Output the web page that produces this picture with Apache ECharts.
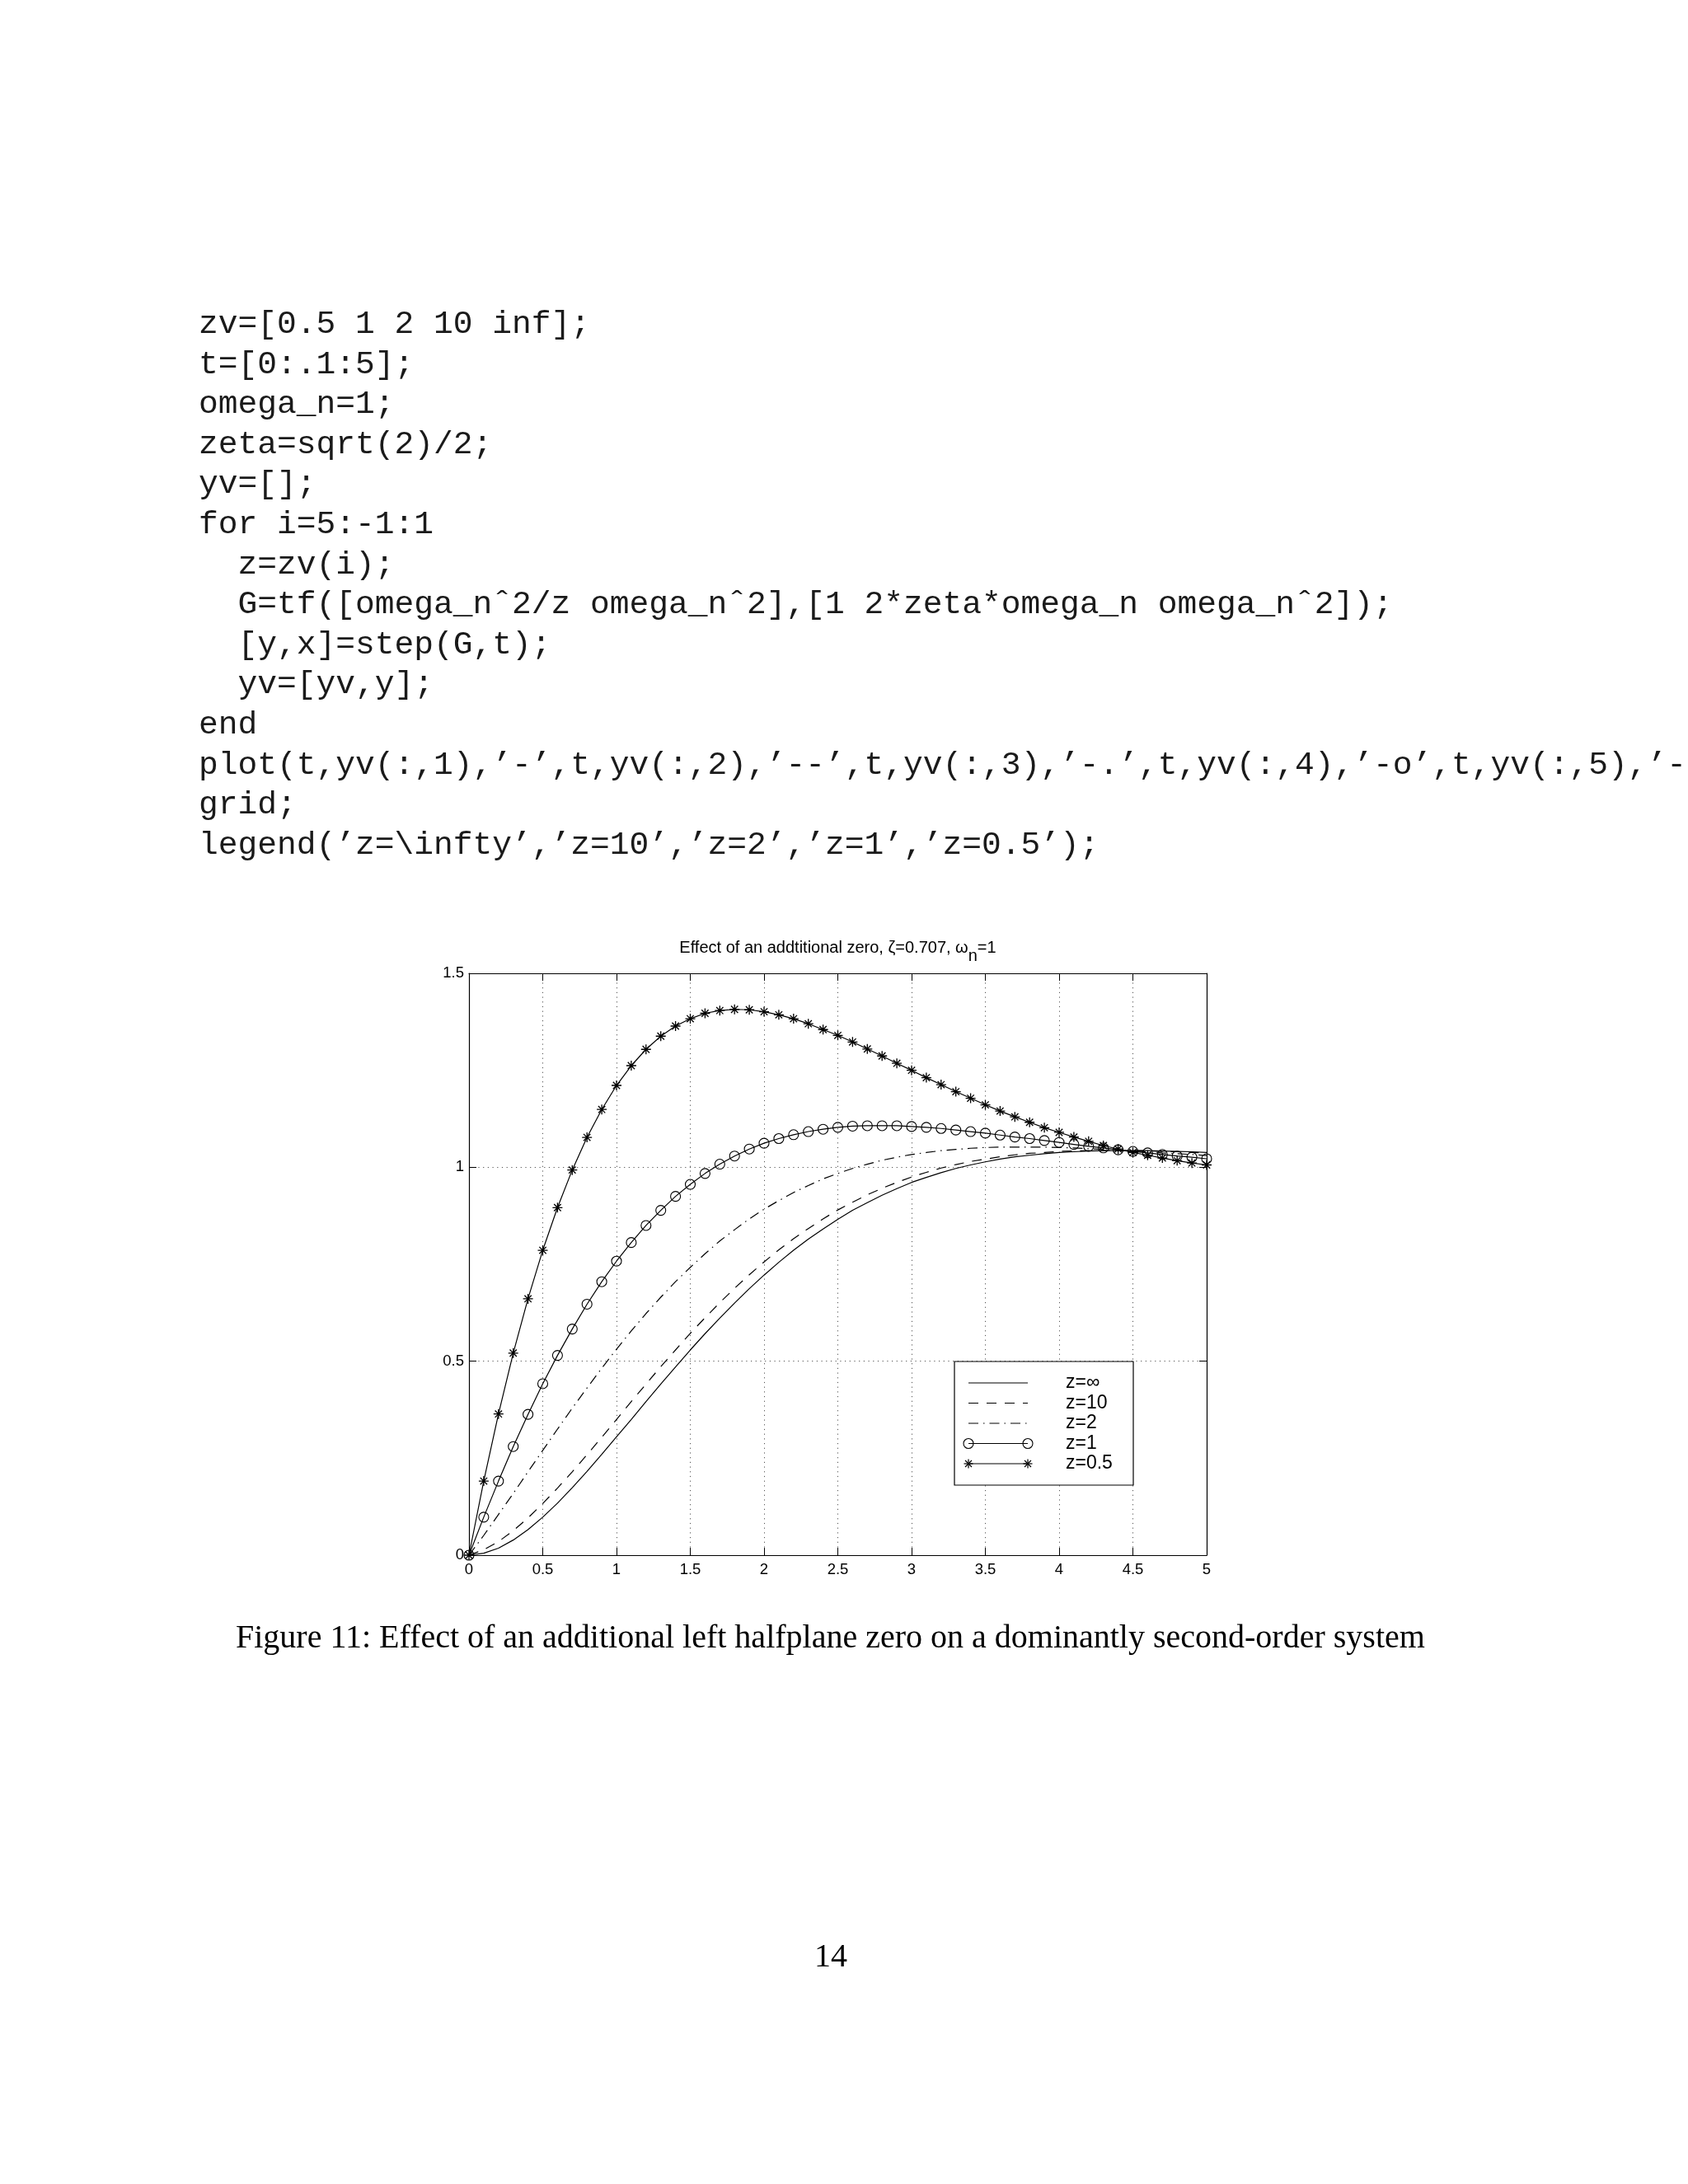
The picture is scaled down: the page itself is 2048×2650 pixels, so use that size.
<!DOCTYPE html>
<html>
<head>
<meta charset="utf-8">
<script src="https://cdn.jsdelivr.net/npm/echarts@6/dist/echarts.min.js"></script>
<style>
  html, body { margin: 0; padding: 0; background: #fff; }
  body { width: 2048px; height: 2650px; overflow: hidden; position: relative; }
  #chart { position: absolute; left: 0; top: 0; width: 2048px; height: 2650px; }
  .code { position: absolute; left: 241px; top: 370px; margin: 0; font-family: "Liberation Mono", monospace; font-size: 39.6px; line-height: 48.6px; color: #1a1a1a; white-space: pre; z-index: 2; }
  .caption { position: absolute; left: 286px; top: 1966px; font-family: "Liberation Serif", serif; font-size: 40px; line-height: 40px; color: #000; white-space: nowrap; z-index: 2; }
  .pageno { position: absolute; left: 0; width: 2016px; text-align: center; top: 2353px; font-family: "Liberation Serif", serif; font-size: 40px; line-height: 40px; color: #000; z-index: 2; }
</style>
</head>
<body>
<pre class="code" id="code"></pre>
<div class="caption" id="caption"></div>
<div class="pageno" id="pageno"></div>
<div id="chart"></div>
<script>
// ---------------- data ----------------
const codeLines = [
  "zv=[0.5 1 2 10 inf];",
  "t=[0:.1:5];",
  "omega_n=1;",
  "zeta=sqrt(2)/2;",
  "yv=[];",
  "for i=5:-1:1",
  "  z=zv(i);",
  "  G=tf([omega_nˆ2/z omega_nˆ2],[1 2*zeta*omega_n omega_nˆ2]);",
  "  [y,x]=step(G,t);",
  "  yv=[yv,y];",
  "end",
  "plot(t,yv(:,1),’-’,t,yv(:,2),’--’,t,yv(:,3),’-.’,t,yv(:,4),’-o’,t,yv(:,5),’-*’);",
  "grid;",
  "legend(’z=\\infty’,’z=10’,’z=2’,’z=1’,’z=0.5’);"
];
const captionText = "Figure 11: Effect of an additional left halfplane zero on a dominantly second-order system";
const pageNumber = "14";
const chartTitle = "Effect of an addtitional zero, ζ=0.707, ω";
const chartTitleSub = "n";
const chartTitleTail = "=1";

const tValues = [0,0.1,0.2,0.3,0.4,0.5,0.6,0.7,0.8,0.9,1,1.1,1.2,1.3,1.4,1.5,1.6,1.7,1.8,1.9,2,2.1,2.2,2.3,2.4,2.5,2.6,2.7,2.8,2.9,3,3.1,3.2,3.3,3.4,3.5,3.6,3.7,3.8,3.9,4,4.1,4.2,4.3,4.4,4.5,4.6,4.7,4.8,4.9,5];

const yZinf = [0,0.005,0.018,0.039,0.066,0.098,0.134,0.174,0.216,0.260,0.305,0.350,0.396,0.441,0.485,0.529,0.571,0.611,0.650,0.687,0.722,0.755,0.786,0.815,0.841,0.866,0.889,0.909,0.928,0.945,0.961,0.974,0.986,0.997,1.006,1.014,1.021,1.027,1.031,1.035,1.038,1.040,1.042,1.043,1.043,1.043,1.043,1.042,1.041,1.040,1.038];
const yZ10 = [0,0.014,0.035,0.063,0.096,0.133,0.173,0.215,0.259,0.304,0.350,0.396,0.441,0.486,0.529,0.572,0.612,0.651,0.688,0.723,0.756,0.787,0.816,0.842,0.867,0.890,0.910,0.929,0.946,0.961,0.975,0.987,0.998,1.007,1.015,1.021,1.027,1.032,1.036,1.038,1.041,1.042,1.043,1.043,1.043,1.043,1.042,1.041,1.040,1.038,1.037];
const yZ2 = [0,0.051,0.105,0.159,0.215,0.270,0.325,0.379,0.431,0.482,0.531,0.578,0.623,0.665,0.705,0.742,0.777,0.810,0.839,0.867,0.892,0.914,0.935,0.953,0.970,0.984,0.997,1.008,1.018,1.026,1.033,1.038,1.043,1.046,1.049,1.051,1.052,1.052,1.052,1.052,1.051,1.050,1.048,1.046,1.044,1.042,1.040,1.037,1.035,1.033,1.030];
const yZ1 = [0,0.098,0.191,0.280,0.363,0.442,0.515,0.583,0.647,0.705,0.758,0.806,0.850,0.889,0.925,0.956,0.984,1.008,1.029,1.047,1.062,1.074,1.084,1.092,1.098,1.103,1.106,1.107,1.107,1.107,1.105,1.103,1.100,1.096,1.092,1.088,1.083,1.078,1.074,1.069,1.064,1.059,1.054,1.050,1.045,1.041,1.037,1.033,1.029,1.026,1.022];
const yZ05 = [0,0.191,0.364,0.521,0.661,0.786,0.896,0.993,1.077,1.149,1.211,1.262,1.304,1.338,1.364,1.383,1.397,1.404,1.407,1.406,1.401,1.393,1.383,1.370,1.355,1.340,1.323,1.305,1.287,1.268,1.250,1.231,1.213,1.195,1.178,1.161,1.145,1.130,1.116,1.102,1.090,1.078,1.067,1.056,1.047,1.038,1.031,1.024,1.017,1.011,1.006];

const legendLabels = ["z=∞", "z=10", "z=2", "z=1", "z=0.5"];
const xTickLabels = ["0","0.5","1","1.5","2","2.5","3","3.5","4","4.5","5"];
const yTickLabels = ["0","0.5","1","1.5"];

// ---------------- text ----------------
document.getElementById('code').textContent = codeLines.join("\n");
document.getElementById('caption').textContent = captionText;
document.getElementById('pageno').textContent = pageNumber;

// ---------------- chart ----------------
const seriesValues = [yZinf, yZ10, yZ2, yZ1, yZ05];
const dashStyles = ['solid', [12, 10], [12, 6, 1.5, 6], 'solid', 'solid'];
const starPath = 'path://M5,0L5,10M0,5L10,5M1.5,1.5L8.5,8.5M1.5,8.5L8.5,1.5';
const symbols = ['none', 'none', 'none', 'circle', starPath];
const symbolSizes = [0, 0, 0, 12, 12];

const GRID = { left: 569, top: 1181, width: 895, height: 706 };
const LW = 1.2;

const series = seriesValues.map((vals, i) => ({
  type: 'line',
  name: legendLabels[i],
  xAxisIndex: 0,
  yAxisIndex: 0,
  data: tValues.map((t, k) => [t, vals[k]]),
  showSymbol: symbols[i] !== 'none',
  showAllSymbol: true,
  symbol: symbols[i],
  symbolSize: symbolSizes[i],
  symbolKeepAspect: true,
  lineStyle: { color: '#000', width: LW, type: dashStyles[i] },
  itemStyle: { color: 'rgba(0,0,0,0)', borderColor: '#000', borderWidth: i === 4 ? 1.3 : 1.1 },
  emphasis: { disabled: true },
  silent: true,
  z: 3 + i
}));

// legend drawn as graphic, like the MATLAB legend box
const LG = { x: 1158, y: 1652, w: 217, h: 150, x1: 1175, x2: 1247, tx: 1293, row0: 1678, dy: 24.5 };
const legendEls = [{
  type: 'rect', shape: { x: LG.x, y: LG.y, width: LG.w, height: LG.h },
  style: { fill: '#fff', stroke: '#000', lineWidth: LW }, z: 100
}];
function starEls(cx, cy, r) {
  const d = r * 0.72;
  return [[0, -r, 0, r], [-r, 0, r, 0], [-d, -d, d, d], [-d, d, d, -d]].map(s => ({
    type: 'line', shape: { x1: cx + s[0], y1: cy + s[1], x2: cx + s[2], y2: cy + s[3] },
    style: { stroke: '#000', lineWidth: 1.2 }, z: 102
  }));
}
legendLabels.forEach((lab, i) => {
  const y = LG.row0 + i * LG.dy;
  const dash = dashStyles[i] === 'solid' ? null : dashStyles[i];
  legendEls.push({
    type: 'line', shape: { x1: LG.x1, y1: y, x2: LG.x2, y2: y },
    style: { stroke: '#000', lineWidth: LW, lineDash: dash }, z: 101
  });
  if (i === 3) {
    [LG.x1, LG.x2].forEach(cx => legendEls.push({
      type: 'circle', shape: { cx: cx, cy: y, r: 6 },
      style: { fill: 'none', stroke: '#000', lineWidth: 1.1 }, z: 102
    }));
  }
  if (i === 4) {
    [LG.x1, LG.x2].forEach(cx => starEls(cx, y, 5.5).forEach(e => legendEls.push(e)));
  }
  legendEls.push({
    type: 'text',
    style: { text: lab, x: LG.tx, y: y, font: '23px "Liberation Sans"', fill: '#000', textAlign: 'left', textVerticalAlign: 'middle' },
    z: 102
  });
});

// title with a true subscript: three text pieces placed by measured widths
const TITLE_FONT = '20px "Liberation Sans"';
const mctx = document.createElement('canvas').getContext('2d');
mctx.font = TITLE_FONT;
const w1 = mctx.measureText(chartTitle).width;
const w2 = mctx.measureText(chartTitleSub).width;
const w3 = mctx.measureText(chartTitleTail).width;
const titleCx = GRID.left + GRID.width / 2;
const titleX0 = titleCx - (w1 + w2 + w3) / 2;
const titleY = 1150;
const titleEls = [
  { type: 'text', z: 50, style: { text: chartTitle, x: titleX0, y: titleY, font: TITLE_FONT, fill: '#000', textAlign: 'left', textVerticalAlign: 'middle' } },
  { type: 'text', z: 50, style: { text: chartTitleSub, x: titleX0 + w1, y: titleY + 10, font: TITLE_FONT, fill: '#000', textAlign: 'left', textVerticalAlign: 'middle' } },
  { type: 'text', z: 50, style: { text: chartTitleTail, x: titleX0 + w1 + w2, y: titleY, font: TITLE_FONT, fill: '#000', textAlign: 'left', textVerticalAlign: 'middle' } }
];

const axisLineStyle = { color: '#000', width: LW };
const tickStyle = { inside: true, length: 9, lineStyle: { color: '#000', width: 1 } };
const gridLine = { show: true, lineStyle: { color: '#555', width: 1, type: [1.2, 4.5] } };

const option = {
  animation: false,
  backgroundColor: '#fff',
  grid: { left: GRID.left, top: GRID.top, width: GRID.width, height: GRID.height, containLabel: false },
  xAxis: [
    {
      type: 'value', position: 'bottom', min: 0, max: 5, interval: 0.5,
      axisLine: { show: true, onZero: false, lineStyle: axisLineStyle },
      axisTick: tickStyle,
      axisLabel: {
        color: '#000', fontSize: 18.5, fontFamily: 'Liberation Sans', margin: 8,
        showMinLabel: true, showMaxLabel: true,
        formatter: v => xTickLabels[Math.round(v / 0.5)]
      },
      splitLine: gridLine
    },
    {
      type: 'value', position: 'top', min: 0, max: 5, interval: 0.5,
      axisLine: { show: true, onZero: false, lineStyle: axisLineStyle },
      axisTick: tickStyle, axisLabel: { show: false }, splitLine: { show: false }
    }
  ],
  yAxis: [
    {
      type: 'value', position: 'left', min: 0, max: 1.5, interval: 0.5,
      axisLine: { show: true, onZero: false, lineStyle: axisLineStyle },
      axisTick: tickStyle,
      axisLabel: {
        color: '#000', fontSize: 18.5, fontFamily: 'Liberation Sans', margin: 6,
        showMinLabel: true, showMaxLabel: true,
        formatter: v => yTickLabels[Math.round(v / 0.5)]
      },
      splitLine: gridLine
    },
    {
      type: 'value', position: 'right', min: 0, max: 1.5, interval: 0.5,
      axisLine: { show: true, onZero: false, lineStyle: axisLineStyle },
      axisTick: tickStyle, axisLabel: { show: false }, splitLine: { show: false }
    }
  ],
  series: series,
  graphic: { elements: titleEls.concat(legendEls) }
};

const chart = echarts.init(document.getElementById('chart'), null, { renderer: 'canvas' });
chart.setOption(option);
</script>
</body>
</html>
